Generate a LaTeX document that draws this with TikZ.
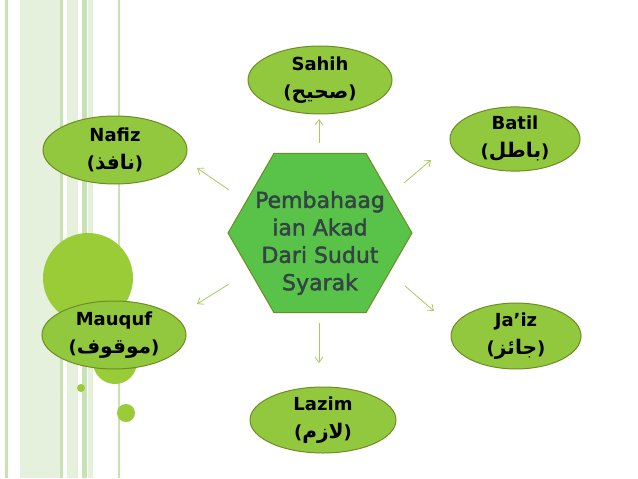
\documentclass[tikz,border=0pt]{standalone}
\usepackage{fontspec}
\setmainfont{DejaVu Sans}
\newfontfamily\arabicfont[Script=Arabic,Scale=1.12]{DejaVu Sans}
\newfontfamily\hexfont[FakeBold=2]{DejaVu Sans}
\TeXXeTstate=1
\usetikzlibrary{shapes.geometric,arrows.meta}

\definecolor{leafgreen}{RGB}{146,200,62}
\definecolor{olivedge}{RGB}{110,140,35}
\definecolor{hexgreen}{RGB}{88,195,72}
\definecolor{dotgreen}{RGB}{154,204,56}
\definecolor{arrowgreen}{RGB}{168,204,92}
\definecolor{slatetext}{RGB}{52,68,68}
\definecolor{stripepale}{RGB}{230,241,221}
\definecolor{stripeline}{RGB}{200,226,180}

\newcommand\arword[1]{{\arabicfont\beginR #1\endR}}

\tikzset{every picture/.style={line width=0.75pt}}

\begin{document}
\begin{tikzpicture}[x=0.75pt,y=0.75pt,yscale=-1,xscale=1,
  bubble/.style={ellipse, draw=olivedge, fill=leafgreen, inner sep=0pt, align=center,
    font=\bfseries\fontsize{13.5}{21}\selectfont},
  hexagon/.style={regular polygon, regular polygon sides=6, minimum size=138pt,
    inner sep=0pt, draw=olivedge, fill=hexgreen},
  hexlabel/.style={align=center, text=slatetext, inner sep=0pt,
    font=\hexfont\fontsize{16.5}{20.6}\selectfont},
  pointer/.style={draw=arrowgreen, -{Straight Barb[length=4pt,width=6pt]}, line width=0.6pt}]
\useasboundingbox (0,0) rectangle (638,478);

%Shape: Stripes [left border]
\fill [stripeline] (5,0) rectangle (8,478);
\fill [stripepale] (20,0) rectangle (60,478);
\fill [stripeline] (60,0) rectangle (63,478);
\fill [stripepale] (67,0) rectangle (78,478);
\fill [stripeline] (82,0) rectangle (87,478);
\fill [stripepale] (88,0) rectangle (93,478);
\fill [stripeline] (118,0) rectangle (120,478);

%Shape: Circles
\fill [dotgreen] (88,278) circle [radius=45];
\fill [dotgreen] (115,362) circle [radius=22];
\fill [dotgreen] (81,388) circle [radius=4];
\fill [dotgreen] (126,413) circle [radius=9];

%Shape: Hexagon
\node [hexagon] (hex) at (320,233) {};
% Text Node
\node [hexlabel] (hextext) at (320,243) {Pembahaag\\ian Akad\\Dari Sudut\\Syarak};

%Shape: Ellipses
\node [bubble, minimum width=108pt, minimum height=51pt] (sahih) at (320,80) {Sahih\\(\arword{صحيح})};
\node [bubble, minimum width=97.5pt, minimum height=48pt] (batil) at (515,139) {Batil\\(\arword{باطل})};
\node [bubble, minimum width=97.5pt, minimum height=47pt] (jaiz) at (516,336) {Ja’iz\\(\arword{جائز})};
\node [bubble, minimum width=109.5pt, minimum height=49.5pt] (lazim) at (323,420) {Lazim\\(\arword{لازم})};
\node [bubble, minimum width=108pt, minimum height=51pt] (nafiz) at (115,150) {Nafiz\\(\arword{نافذ})};
\node [bubble, minimum width=108pt, minimum height=51pt] (mauquf) at (114,335) {Mauquf\\(\arword{موقوف})};

%Straight Lines [arrows]
\coordinate (upA) at (319,143);
\coordinate (upB) at (319,119);
\coordinate (downA) at (319,323);
\coordinate (downB) at (319,363);
\coordinate (ulA) at (229,190);
\coordinate (ulB) at (197,168);
\coordinate (urA) at (404,183);
\coordinate (urB) at (431,160);
\coordinate (llA) at (229,284);
\coordinate (llB) at (197,304);
\coordinate (lrA) at (405,286);
\coordinate (lrB) at (434,311);
\draw [pointer] (upA) -- (upB);
\draw [pointer] (downA) -- (downB);
\draw [pointer] (ulA) -- (ulB);
\draw [pointer] (urA) -- (urB);
\draw [pointer] (llA) -- (llB);
\draw [pointer] (lrA) -- (lrB);

\end{tikzpicture}
\end{document}
